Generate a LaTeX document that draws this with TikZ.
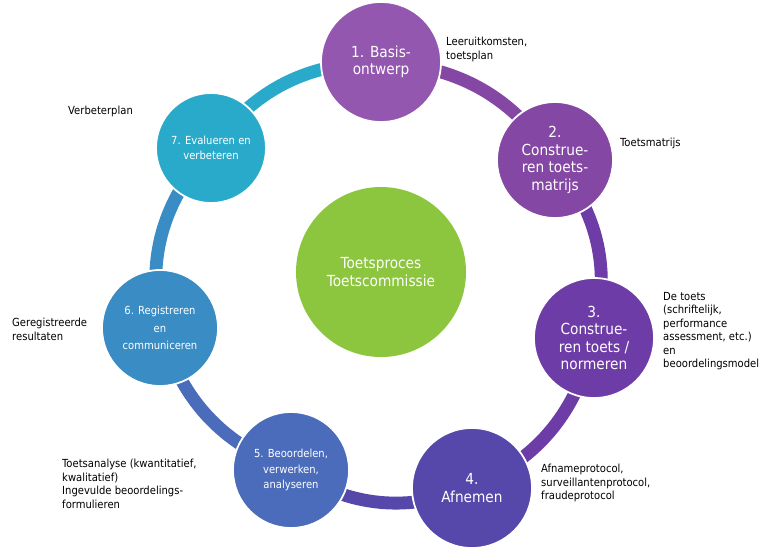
\documentclass[tikz,border=0pt]{standalone}
\usepackage{fontspec}
\setmainfont{DejaVu Sans Condensed}
\usetikzlibrary{backgrounds}
\definecolor{cone}{HTML}{9457B0}
\definecolor{ctwo}{HTML}{8447A4}
\definecolor{cthree}{HTML}{6E3CA6}
\definecolor{cfour}{HTML}{5548AA}
\definecolor{cfive}{HTML}{4A6CBA}
\definecolor{csix}{HTML}{3A8CC4}
\definecolor{cseven}{HTML}{2AAACA}
\definecolor{cmid}{HTML}{8CC63F}
\tikzset{
  phase/.style={circle, draw=white, line width=1.5pt, text=white, align=center, inner sep=0pt},
  ring/.style={line width=11pt, bend left=26},
  note/.style={anchor=north west, align=left, font=\fontsize{9.5}{11.5}\selectfont, inner sep=0pt},
}
\begin{document}
\begin{tikzpicture}[x=0.03cm, y=-0.03cm]
		\useasboundingbox (0,0) rectangle (768,552);
		% fasen
		\node[phase, fill=cone, minimum size=120*0.03cm, font=\fontsize{13}{15}\selectfont] (s1) at (381,62) {1. Basis-\\ontwerp};
		\node[phase, fill=ctwo, minimum size=116*0.03cm, font=\fontsize{13}{15}\selectfont] (s2) at (555,160) {2.\\Construe-\\ren toets-\\matrijs};
		\node[phase, fill=cthree, minimum size=120*0.03cm, font=\fontsize{13}{15}\selectfont] (s3) at (594,338) {3.\\Construe-\\ren toets /\\normeren};
		\node[phase, fill=cfour, minimum size=120*0.03cm, font=\fontsize{13}{15}\selectfont] (s4) at (472,488) {4.\\Afnemen};
		\node[phase, fill=cfive, minimum size=116*0.03cm, font=\fontsize{9.5}{13}\selectfont] (s5) at (291,470) {5. Beoordelen,\\verwerken,\\analyseren};
		\node[phase, fill=csix, minimum size=116*0.03cm, font=\fontsize{9.5}{15}\selectfont] (s6) at (160,328) {6. Registreren\\en\\communiceren};
		\node[phase, fill=cseven, minimum size=110*0.03cm, font=\fontsize{9.5}{13}\selectfont] (s7) at (211,148) {7. Evalueren en\\verbeteren};
		\node[circle, fill=cmid, text=white, align=center, minimum size=170*0.03cm, font=\fontsize{13}{16}\selectfont] (mid) at (381,272) {Toetsproces\\Toetscommissie};
		%
		\begin{scope}[on background layer]
		\draw[ring, ctwo] (s1.center) to (s2.center);
		\draw[ring, cthree] (s2.center) to (s3.center);
		\draw[ring, cthree] (s3.center) to (s4.center);
		\draw[ring, cfour] (s4.center) to (s5.center);
		\draw[ring, cfive] (s5.center) to (s6.center);
		\draw[ring, csix] (s6.center) to (s7.center);
		\draw[ring, cseven] (s7.center) to (s1.center);
		\end{scope}
		%
		\node[note] (n1) at (446,37) {Leeruitkomsten,\\toetsplan};
		\node[note] (n2) at (620,138) {Toetsmatrijs};
		\node[note] (n3) at (663,292) {De toets\\(schriftelijk,\\performance\\assessment, etc.)\\en\\beoordelingsmodel};
		\node[note] (n4) at (541,464) {Afnameprotocol,\\surveillantenprotocol,\\fraudeprotocol};
		\node[note] (n5) at (62,459) {Toetsanalyse (kwantitatief,\\kwalitatief)\\Ingevulde beoordelings-\\formulieren};
		\node[note] (n6) at (12,318) {Geregistreerde\\resultaten};
		\node[note] (n7) at (68,106) {Verbeterplan};
	\end{tikzpicture}
\end{document}
